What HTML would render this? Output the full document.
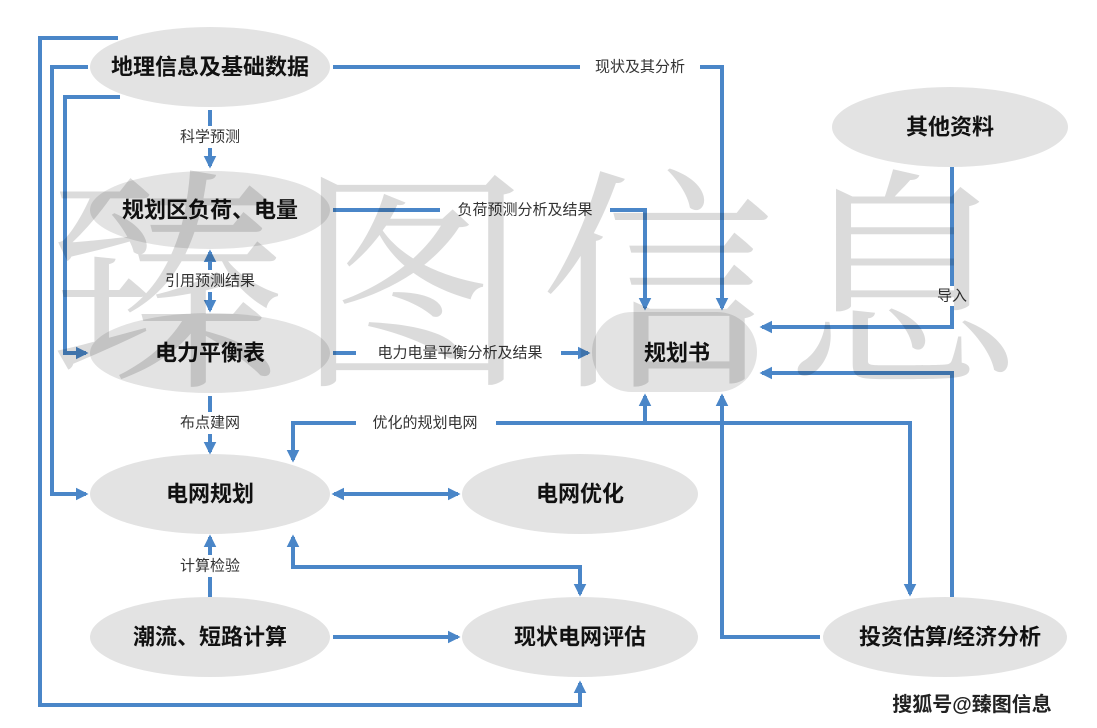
<!DOCTYPE html>
<html><head><meta charset="utf-8"><style>
html,body{margin:0;padding:0;background:#fff}
svg{display:block}
.n{font-family:"Liberation Sans","Noto Sans CJK SC",sans-serif;font-weight:bold;font-size:22px;fill:#111;text-anchor:middle;dominant-baseline:central}
.l{font-family:"Liberation Sans","Noto Sans CJK SC",sans-serif;font-size:15px;fill:#333;text-anchor:middle;dominant-baseline:central}
</style></head><body>
<svg width="1097" height="728" viewBox="0 0 1097 728" xmlns="http://www.w3.org/2000/svg">
<defs><marker id="a" viewBox="0 0 10 10" refX="8" refY="5" markerWidth="3.2" markerHeight="3.2" orient="auto-start-reverse"><path d="M0,0L10,5L0,10z" fill="#4a86c8"/></marker></defs>
<g fill="#e3e3e3">
<ellipse cx="210" cy="67" rx="120" ry="40"/>
<ellipse cx="210" cy="210" rx="120" ry="39"/>
<ellipse cx="210" cy="353" rx="120" ry="40"/>
<ellipse cx="210" cy="494" rx="120" ry="40"/>
<ellipse cx="580" cy="494" rx="118" ry="40"/>
<ellipse cx="210" cy="637" rx="120" ry="40"/>
<ellipse cx="580" cy="637" rx="118" ry="40"/>
<ellipse cx="950" cy="127" rx="118" ry="40"/>
<ellipse cx="945" cy="637" rx="122" ry="40"/>
<rect x="592" y="312" width="165" height="80" rx="40"/>
</g>
<g stroke="#4a86c8" stroke-width="4" fill="none">
<polyline points="118,38 40,38 40,705 580,705 580,683" marker-end="url(#a)"/>
<polyline points="88,67 52,67 52,494 86,494" marker-end="url(#a)"/>
<polyline points="120,97 65,97 65,353 86,353" marker-end="url(#a)"/>
<polyline points="333,67 722,67 722,308" marker-end="url(#a)"/>
<line x1="210" y1="110" x2="210" y2="166" marker-end="url(#a)"/>
<polyline points="333,210 645,210 645,308" marker-end="url(#a)"/>
<line x1="210" y1="252" x2="210" y2="310" marker-start="url(#a)" marker-end="url(#a)"/>
<line x1="333" y1="353" x2="588" y2="353" marker-end="url(#a)"/>
<line x1="210" y1="396" x2="210" y2="452" marker-end="url(#a)"/>
<polyline points="293,460 293,423 910,423 910,594" marker-start="url(#a)" marker-end="url(#a)"/>
<line x1="645" y1="423" x2="645" y2="396" marker-end="url(#a)"/>
<polyline points="820,637 722,637 722,396" marker-end="url(#a)"/>
<polyline points="952,167 952,327 762,327" marker-end="url(#a)"/>
<polyline points="952,597 952,373 762,373" marker-end="url(#a)"/>
<line x1="334" y1="494" x2="458" y2="494" marker-start="url(#a)" marker-end="url(#a)"/>
<line x1="210" y1="597" x2="210" y2="537" marker-end="url(#a)"/>
<line x1="333" y1="637" x2="458" y2="637" marker-end="url(#a)"/>
<polyline points="293,537 293,567 580,567 580,594" marker-start="url(#a)" marker-end="url(#a)"/>
</g>
<g fill="#fff">
<rect x="580" y="57" width="120" height="20"/>
<rect x="170" y="126" width="80" height="22"/>
<rect x="440" y="200" width="170" height="20"/>
<rect x="150" y="270" width="120" height="22"/>
<rect x="356" y="343" width="205" height="20"/>
<rect x="170" y="412" width="80" height="22"/>
<rect x="356" y="413" width="140" height="20"/>
<rect x="170" y="555" width="80" height="22"/>
<rect x="930" y="286" width="44" height="20"/>
</g>
<text class="l" x="640" y="67">现状及其分析</text>
<text class="l" x="210" y="137">科学预测</text>
<text class="l" x="525" y="210">负荷预测分析及结果</text>
<text class="l" x="210" y="281">引用预测结果</text>
<text class="l" x="460" y="353">电力电量平衡分析及结果</text>
<text class="l" x="210" y="423">布点建网</text>
<text class="l" x="425" y="423">优化的规划电网</text>
<text class="l" x="210" y="566">计算检验</text>
<text class="l" x="952" y="296">导入</text>
<text class="n" x="210" y="67">地理信息及基础数据</text>
<text class="n" x="210" y="210">规划区负荷、电量</text>
<text class="n" x="210" y="353">电力平衡表</text>
<text class="n" x="210" y="494">电网规划</text>
<text class="n" x="580" y="494">电网优化</text>
<text class="n" x="210" y="637">潮流、短路计算</text>
<text class="n" x="580" y="637">现状电网评估</text>
<text class="n" x="950" y="127">其他资料</text>
<text class="n" x="950" y="637">投资估算/经济分析</text>
<text class="n" x="677" y="353">规划书</text>
<text x="540" y="368" font-family="'Noto Serif CJK SC',serif" font-size="235" fill="#000" fill-opacity="0.14" text-anchor="middle" letter-spacing="10">臻图信息</text>
<text x="972" y="705" font-family="'Liberation Sans','Noto Sans CJK SC',sans-serif" font-size="20" font-weight="bold" fill="#222" text-anchor="middle" dominant-baseline="central">搜狐号@臻图信息</text>
</svg>
</body></html>
